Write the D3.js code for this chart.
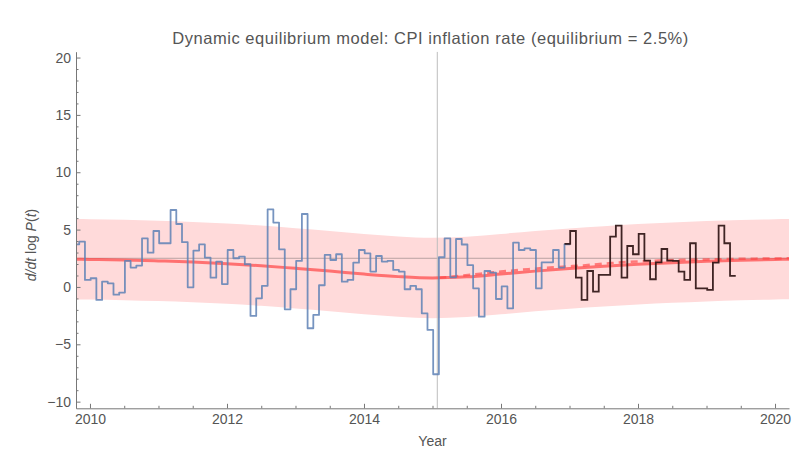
<!DOCTYPE html>
<html>
<head>
<meta charset="utf-8">
<script src="https://cdn.jsdelivr.net/npm/d3@7/dist/d3.min.js"></script>
<style>
  html, body { margin: 0; padding: 0; background: #fff; }
  svg { display: block; font-family: "Liberation Sans", Arial, Helvetica, sans-serif; }
</style>
</head>
<body>
<svg id="chart" width="792" height="475"></svg>
<script>
// ---------------- DATA ----------------
const titleText = "Dynamic equilibrium model: CPI inflation rate (equilibrium = 2.5%)";
const xLabel = "Year";
const monthStart = 2009.76;          // start of first monthly value
const blackOffset = 86;              // month index where the post-2017 series begins
const equilibrium = 2.5;
const shockYear = 2015.07;
const bandHalfWidth = 3.5;

// monthly CPI inflation (blue), from monthStart
const blueValues = [
  3.72, 3.95, 0.61, 0.76, -1.13, 0.46, 0.32, -0.67, -0.49, 2.27,
  1.69, 1.86, 4.24, 2.99, 4.88, 3.81, 3.81, 6.71, 5.49, 3.90,
  -0.03, 3.17, 3.72, 2.56, 0.81, 2.21, 0.25, 3.22, 2.50, 2.64,
  1.98, -2.53, -0.99, 0.10, 6.77, 5.61, 3.28, -1.95, -0.20, 2.27,
  6.36, -3.60, -2.44, 0.15, 2.79, 2.35, 2.85, 0.46, 0.61, 2.12,
  3.22, 2.93, 1.34, 2.70, 2.21, 2.27, 1.48, 1.34, -0.20, 0.09,
  -0.20, -2.30, -3.75, -7.61, 2.59, 4.24, 0.84, 4.18, 3.70, 1.90,
  -0.12, -2.59, 1.39, 1.25, -1.05, 0.05, -1.86, 3.86, 3.22, 3.37,
  3.22, -0.12, 2.15, 2.15, 3.22, 1.69, 3.72
];

// monthly CPI inflation after the model was fixed (black)
const blackValues = [
  3.75, 4.88, 0.81, -1.13, 1.39, -0.41, 1.05, 1.05, 4.39, 5.35,
  0.81, 3.57, 2.85, 4.62, 2.30, 0.67, 2.15, 3.31, 2.30, 2.27,
  1.34, 0.61, 3.81, -0.12, -0.12, -0.26, 2.12, 5.35, 3.81, 0.96
];

// model (solid red)
const modelYears  = [2009.7, 2010.0, 2010.5, 2011.0, 2011.5, 2012.0, 2012.5, 2013.0, 2013.5, 2014.0, 2014.5, 2015.0, 2015.5, 2016.0, 2016.5, 2017.0, 2017.5, 2018.0, 2018.5, 2019.0, 2019.5, 2020.0, 2020.3];
const modelValues = [2.42, 2.40, 2.35, 2.27, 2.17, 2.03, 1.85, 1.62, 1.38, 1.12, 0.90, 0.78, 0.88, 1.12, 1.38, 1.60, 1.80, 1.98, 2.12, 2.24, 2.33, 2.40, 2.43];

// alternative model (dashed red)
const altYears  = [2015.1, 2015.4, 2015.7, 2016.0, 2016.4, 2016.9, 2017.2, 2017.6, 2018.3, 2019.0, 2019.6, 2020.3];
const altValues = [0.80, 0.96, 1.15, 1.34, 1.55, 1.77, 1.88, 2.08, 2.30, 2.40, 2.46, 2.50];

const xTicksMajor = [2010, 2012, 2014, 2016, 2018, 2020];
const yTicksMajor = [-10, -5, 0, 5, 10, 15, 20];

// ---------------- LAYOUT ----------------
const W = 792, H = 475;
const m = { left: 76, right: 3, top: 51.7, bottom: 66.7 };
const svg = d3.select("#chart");

const x = d3.scaleLinear().domain([2009.796, 2020.204]).range([m.left, W - m.right]);
const y = d3.scaleLinear().domain([-10.58, 20.51]).range([H - m.bottom, m.top]);

svg.append("defs").append("clipPath").attr("id", "plotClip")
  .append("rect").attr("x", m.left).attr("y", m.top)
  .attr("width", W - m.left - m.right).attr("height", H - m.top - m.bottom);

const plot = svg.append("g").attr("clip-path", "url(#plotClip)");

const model = modelYears.map((t, i) => ({ t, v: modelValues[i] }));
const alt = altYears.map((t, i) => ({ t, v: altValues[i] }));

// band
plot.append("path")
  .datum(model)
  .attr("fill", "#ffdada")
  .attr("d", d3.area().curve(d3.curveMonotoneX)
    .x(d => x(d.t)).y0(d => y(d.v - bandHalfWidth)).y1(d => y(d.v + bandHalfWidth)));

// equilibrium line
plot.append("line")
  .attr("x1", m.left).attr("x2", W - m.right)
  .attr("y1", y(equilibrium)).attr("y2", y(equilibrium))
  .attr("stroke", "#9a8a8a").attr("stroke-opacity", 0.7).attr("stroke-width", 1);

// shock line
plot.append("line")
  .attr("x1", x(shockYear)).attr("x2", x(shockYear))
  .attr("y1", m.top).attr("y2", H - m.bottom)
  .attr("stroke", "#bdbdbd").attr("stroke-width", 1);

// model line
const lineT = d3.line().curve(d3.curveMonotoneX).x(d => x(d.t)).y(d => y(d.v));
plot.append("path").datum(model)
  .attr("fill", "none").attr("stroke", "#ff4545").attr("stroke-opacity", 0.7)
  .attr("stroke-width", 3).attr("d", lineT);

plot.append("path").datum(alt)
  .attr("fill", "none").attr("stroke", "#ff4545").attr("stroke-opacity", 0.65)
  .attr("stroke-width", 2.5).attr("stroke-dasharray", "7,5").attr("d", lineT);

// step series
function stepData(values, offset) {
  const pts = values.map((v, i) => ({ t: monthStart + (offset + i) / 12, v }));
  pts.push({ t: monthStart + (offset + values.length) / 12, v: values[values.length - 1] });
  return pts;
}
const lineStep = d3.line().curve(d3.curveStepAfter).x(d => x(d.t)).y(d => y(d.v));

plot.append("path").datum(stepData(blueValues, 0))
  .attr("fill", "none").attr("stroke", "#5e81b5").attr("stroke-opacity", 0.85)
  .attr("stroke-width", 1.8).attr("stroke-linejoin", "round").attr("d", lineStep);

plot.append("path").datum(stepData(blackValues, blackOffset))
  .attr("fill", "none").attr("stroke", "#2a1010").attr("stroke-opacity", 0.9)
  .attr("stroke-width", 1.8).attr("d", lineStep);

// ---------------- AXES ----------------
const axisColor = "#777", labelColor = "#555";

function styleAxis(g) {
  g.select(".domain").attr("stroke", axisColor);
  g.selectAll(".tick line").attr("stroke", axisColor);
  g.selectAll(".tick text").attr("fill", labelColor).attr("font-size", 14)
    .attr("font-family", "'Liberation Sans', Arial, sans-serif");
}

// minor y ticks
const yMinor = d3.range(-10, 21, 1).filter(v => !yTicksMajor.includes(v));
svg.append("g").attr("transform", `translate(${m.left},0)`)
  .call(d3.axisLeft(y).tickValues(yMinor).tickSize(-2.5).tickFormat(""))
  .call(g => { g.select(".domain").remove(); g.selectAll("line").attr("stroke", axisColor); });
svg.append("g").attr("transform", `translate(${m.left},0)`)
  .call(d3.axisLeft(y).tickValues(yTicksMajor).tickSize(-4.5).tickPadding(5).tickSizeOuter(0))
  .call(styleAxis);

// minor x ticks
const xMinor = d3.range(2010, 2020.01, 0.5).filter(v => !xTicksMajor.includes(v));
svg.append("g").attr("transform", `translate(0,${H - m.bottom})`)
  .call(d3.axisBottom(x).tickValues(xMinor).tickSize(-2.5).tickFormat(""))
  .call(g => { g.select(".domain").remove(); g.selectAll("line").attr("stroke", axisColor); });
svg.append("g").attr("transform", `translate(0,${H - m.bottom})`)
  .call(d3.axisBottom(x).tickValues(xTicksMajor).tickSize(-4.5).tickPadding(6).tickSizeOuter(0).tickFormat(d3.format("d")))
  .call(styleAxis);

// ---------------- TEXT ----------------
svg.append("text")
  .attr("x", 430.3).attr("y", 44)
  .attr("text-anchor", "middle").attr("font-size", 16.5).attr("fill", "#555")
  .attr("textLength", 516).attr("lengthAdjust", "spacing")
  .text(titleText);

svg.append("text")
  .attr("x", (m.left + W - m.right) / 2).attr("y", 446)
  .attr("text-anchor", "middle").attr("font-size", 14).attr("fill", labelColor)
  .text(xLabel);

const yl = svg.append("text")
  .attr("transform", "translate(36,245) rotate(-90)")
  .attr("text-anchor", "middle").attr("font-size", 14).attr("fill", labelColor);
yl.append("tspan").attr("font-style", "italic").text("d/dt");
yl.append("tspan").text(" log ");
yl.append("tspan").attr("font-style", "italic").text("P");
yl.append("tspan").text("(");
yl.append("tspan").attr("font-style", "italic").text("t");
yl.append("tspan").text(")");
</script>
</body>
</html>
